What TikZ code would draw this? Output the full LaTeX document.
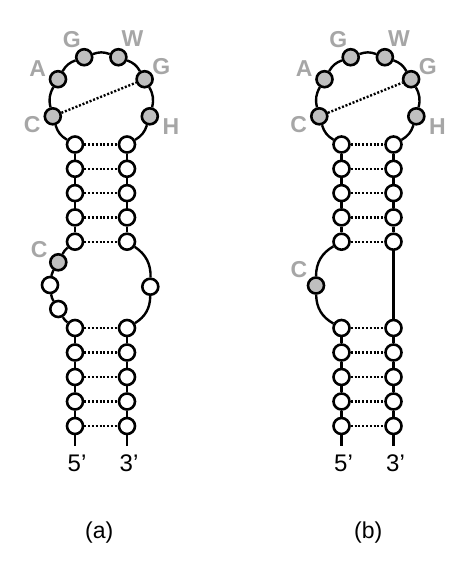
\documentclass[tikz,border=0pt]{standalone}
\usepackage{fontspec}
\setmainfont{Liberation Sans}
\usetikzlibrary{calc}
\definecolor{ndgray}{HTML}{BFBFBF}
\definecolor{lbgray}{HTML}{A6A6A6}
\tikzset{
  nt/.style={circle, draw=black, line width=2.6pt, minimum size=16pt, inner sep=0pt, fill=white},
  ng/.style={nt, fill=ndgray},
  ln/.style={line width=2.4pt},
  pair/.style={line width=2.4pt, dash pattern=on 2pt off 1.8pt},
  lab/.style={text=lbgray, font=\fontsize{23}{26}\selectfont\bfseries, inner sep=0pt},
  endlab/.style={font=\fontsize{24}{27}\selectfont, inner sep=0pt},
  captxt/.style={font=\fontsize{23}{26}\selectfont, inner sep=0pt}
}
\begin{document}
\begin{tikzpicture}[x=1pt,y=-1pt]
\useasboundingbox (0,0) rectangle (474,566);
\foreach \p/\dx in {a/0,b/266.5}{
\begin{scope}[xshift=\dx pt]
  % stems
  \foreach \i in {1,...,5}{
    \node[nt] (\p L\i) at (75,{144.5+24.3*(\i-1)}) {};
    \node[nt] (\p R\i) at (127,{144.5+24.3*(\i-1)}) {};
    \node[nt] (\p l\i) at (75,{328+24.5*(\i-1)}) {};
    \node[nt] (\p r\i) at (127,{328+24.5*(\i-1)}) {};
    \draw[pair] (\p L\i) -- (\p R\i);
    \draw[pair] (\p l\i) -- (\p r\i);
  }
  \foreach \i/\j in {1/2,2/3,3/4,4/5}{
    \draw[ln] (\p L\i) -- (\p L\j);
    \draw[ln] (\p R\i) -- (\p R\j);
    \draw[ln] (\p l\i) -- (\p l\j);
    \draw[ln] (\p r\i) -- (\p r\j);
  }
  \coordinate (\p t5) at (75,446);
  \coordinate (\p t3) at (127,446);
  \draw[ln] (\p l5) -- (\p t5);
  \draw[ln] (\p r5) -- (\p t3);
  \node[endlab] (\p five) at (77,463.5) {5’};
  \node[endlab] (\p three) at (129,463.5) {3’};
  % hairpin loop
  \coordinate (\p c) at (101.3,104.2);
  \node[ng] (\p C) at ($(\p c)+(166:50)$) {};
  \node[ng] (\p A) at ($(\p c)+(210:50)$) {};
  \node[ng] (\p G) at ($(\p c)+(250:50)$) {};
  \node[ng] (\p W) at ($(\p c)+(290:50)$) {};
  \node[ng] (\p GG) at ($(\p c)+(330:50)$) {};
  \node[ng] (\p H) at ($(\p c)+(14:50)$) {};
  \draw[ln] (\p L1) to[bend left=21] (\p C);
  \draw[ln] (\p C) to[bend left=22] (\p A);
  \draw[ln] (\p A) to[bend left=20] (\p G);
  \draw[ln] (\p G) to[bend left=20] (\p W);
  \draw[ln] (\p W) to[bend left=20] (\p GG);
  \draw[ln] (\p GG) to[bend left=22] (\p H);
  \draw[ln] (\p H) to[bend left=21] (\p R1);
  \draw[pair] (\p C) -- (\p GG);
  \node[lab] (\p lG) at (71.7,39.3) {G};
  \node[lab] (\p lW) at (132.5,38.5) {W};
  \node[lab] (\p lA) at (37.7,68.3) {A};
  \node[lab] (\p lGG) at (161.3,66.7) {G};
  \node[lab] (\p lC) at (32.3,125) {C};
  \node[lab] (\p lH) at (171,126.7) {H};
\end{scope}
}
% panel (a) internal loop
\node[ng] (aC2) at (58.3,262.3) {};
\node[nt] (aw1) at (50,285) {};
\node[nt] (aw2) at (58.3,309) {};
\node[nt] (aw3) at (150.3,286.7) {};
\draw[ln] (aL5) to[bend right=12] (aC2);
\draw[ln] (aC2) to[bend right=12] (aw1);
\draw[ln] (aw1) to[bend right=12] (aw2);
\draw[ln] (aw2) to[bend right=12] (al1);
\draw[ln] (aR5) to[bend left=29] (aw3);
\draw[ln] (aw3) to[bend left=29] (ar1);
\node[lab] (alC2) at (39.3,250) {C};
% panel (b) bulge
\node[ng] (bC2) at (316,285.5) {};
\draw[ln] (bL5) to[bend right=30] (bC2);
\draw[ln] (bC2) to[bend right=30] (bl1);
\draw[ln] (bR5) -- (br1);
\node[lab] (blC2) at (299,270) {C};
% captions
\node[captxt] (capa) at (99.3,532.3) {(a)};
\node[captxt] (capb) at (368.3,532.3) {(b)};
\end{tikzpicture}
\end{document}
